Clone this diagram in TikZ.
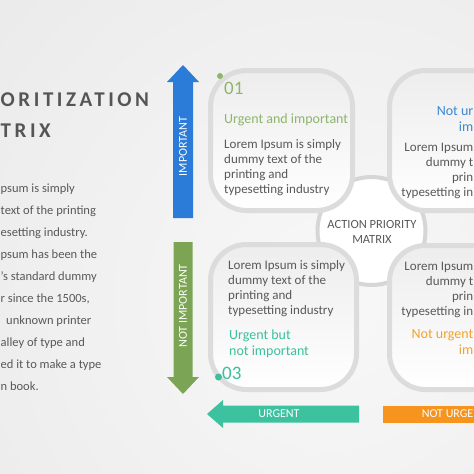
\documentclass[tikz,border=0pt]{standalone}
\usepackage{fontspec}
\setmainfont{Carlito}
\newfontfamily\titlefont[LetterSpace=17]{Carlito}
\definecolor{bluearrow}{HTML}{2B7BD8}
\definecolor{greenarrow}{HTML}{7BA555}
\definecolor{tealarrow}{HTML}{3DC29F}
\definecolor{orangebar}{HTML}{F7941D}
\definecolor{greentext}{HTML}{8DB66B}
\definecolor{bluetext}{HTML}{3D87D2}
\definecolor{tealtext}{HTML}{3DBF9C}
\definecolor{orangetext}{HTML}{F2A42A}
\definecolor{bodytext}{HTML}{595959}
\definecolor{titletext}{HTML}{555555}
\definecolor{boxline}{HTML}{DCDCDC}
\definecolor{boxtop}{HTML}{EDEDED}
\definecolor{circline}{HTML}{D6D6D6}
\definecolor{bgin}{HTML}{F8F8F8}
\definecolor{bgout}{HTML}{E3E3E3}
\begin{document}
\begin{tikzpicture}[x=1pt,y=-1pt,
  every node/.style={inner sep=0pt},
  para/.style={anchor=base west, text=bodytext, font=\fontsize{12.5}{15}\selectfont},
  bodyblock/.style={anchor=north west, align=left, text=bodytext, font=\fontsize{13}{15}\selectfont},
  bodyline/.style={anchor=base east, text=bodytext, font=\fontsize{13}{15}\selectfont},
  headline/.style={anchor=base west, font=\fontsize{14}{16}\selectfont},
  headcut/.style={anchor=base east, font=\fontsize{14}{16}\selectfont},
  numlabel/.style={anchor=base west, font=\fontsize{19}{22}\selectfont},
  panel/.style={draw=boxline, line width=5pt, rounded corners=36pt, top color=boxtop, bottom color=white},
  arrowlabel/.style={text=white, font=\fontsize{12}{14}\selectfont},
  titlestyle/.style={anchor=base west, text=titletext, font=\titlefont\bfseries\fontsize{21}{24}\selectfont},
]
\useasboundingbox (0,0) rectangle (474,474);
\clip (0,0) rectangle (474,474);
% background
\fill[bgout] (0,0) rectangle (474,474);
\shade[inner color=bgin, outer color=bgout] (330,300) circle[radius=700pt];

% title
\node[titlestyle] (t1) at (0.5,106.8) {ORITIZATION};
\node[titlestyle] (t2) at (0.5,137.8) {TRIX};

% paragraph
\node[para] (p1) at (0.5,192.3) {psum is simply};
\node[para] (p2) at (0.5,214.3) {text of the printing};
\node[para] (p3) at (0.5,236.3) {esetting industry.};
\node[para] (p4) at (0.5,258.3) {psum has been the};
\node[para] (p5) at (0.5,280.3) {'s standard dummy};
\node[para] (p6) at (0.5,302.3) {r since the 1500s,};
\node[para] (p7) at (6,324.3) {unknown printer};
\node[para] (p8) at (0.5,346.3) {alley of type and};
\node[para] (p9) at (0.5,368.3) {ed it to make a type};
\node[para] (p10) at (0.5,390.3) {n book.};

% arrows
\fill[bluearrow] (173,218) -- (173,82) -- (167,82) -- (183,65) -- (199,82) -- (193,82) -- (193,218) -- cycle;
\node[arrowlabel, rotate=90] (imp) at (183,146.5) {IMPORTANT};
\fill[greenarrow] (173.5,242) -- (192.5,242) -- (192.5,377) -- (199,377) -- (183,394) -- (167,377) -- (173.5,377) -- cycle;
\node[arrowlabel, rotate=90] (notimp) at (183,306) {NOT IMPORTANT};
\fill[tealarrow] (207,414) -- (223,400) -- (223,405.5) -- (359,405.5) -- (359,422.5) -- (223,422.5) -- (223,428) -- cycle;
\node[arrowlabel] (urg) at (279,414) {URGENT};
\fill[orangebar] (383,405.5) rectangle (480,422.5);
\node[arrowlabel, anchor=east] (nurg) at (473.5,414) {NOT URGE};

% centre circle
\draw[draw=circline, line width=4pt, fill=white] (371.5,231) circle[radius=54pt];
\node[align=center, text=bodytext, font=\fontsize{12.5}{15}\selectfont] (ctr) at (372,231.5) {ACTION PRIORITY\\MATRIX};

% panels
\draw[panel] (210.5,70.5) rectangle (352.5,210.5);
\draw[panel] (389.5,70.5) rectangle (537.5,210.5);
\draw[panel] (210.5,244.5) rectangle (356.5,389.5);
\draw[panel] (389.5,245.5) rectangle (537.5,389.5);

% top-left panel
\fill[greentext] (220,76) circle[radius=3pt];
\node[numlabel, text=greentext] (n1) at (224,94.5) {01};
\node[headline, text=greentext] (h1) at (224,123.8) {Urgent and important};
\node[bodyblock] (b1) at (224,139.3) {Lorem Ipsum is simply\\dummy text of the\\printing and\\typesetting industry};

% top-right panel
\node[headcut, text=bluetext] (h2a) at (473.5,115.8) {Not ur};
\node[headcut, text=bluetext] (h2b) at (473.5,131.8) {im};
\node[bodyline] (b2a) at (473.5,151.5) {Lorem Ipsum};
\node[bodyline] (b2b) at (473.5,166.5) {dummy t};
\node[bodyline] (b2c) at (473.5,181.5) {prin};
\node[bodyline] (b2d) at (473.5,196.5) {typesetting in};

% bottom-left panel
\node[bodyblock] (b3) at (228,260.3) {Lorem Ipsum is simply\\dummy text of the\\printing and\\typesetting industry};
\node[headline, text=tealtext] (h3a) at (229,339.8) {Urgent but};
\node[headline, text=tealtext] (h3b) at (229,355.8) {not important};
\fill[tealtext] (218.5,377) circle[radius=3.5pt];
\node[numlabel, text=tealtext] (n3) at (222,379.5) {03};

% bottom-right panel
\node[bodyline] (b4a) at (473.5,270.5) {Lorem Ipsum};
\node[bodyline] (b4b) at (473.5,285.5) {dummy t};
\node[bodyline] (b4c) at (473.5,300.5) {prin};
\node[bodyline] (b4d) at (473.5,315.5) {typesetting in};
\node[headcut, text=orangetext] (h4a) at (473.5,338.8) {Not urgent};
\node[headcut, text=orangetext] (h4b) at (473.5,354.8) {im};
\end{tikzpicture}
\end{document}
